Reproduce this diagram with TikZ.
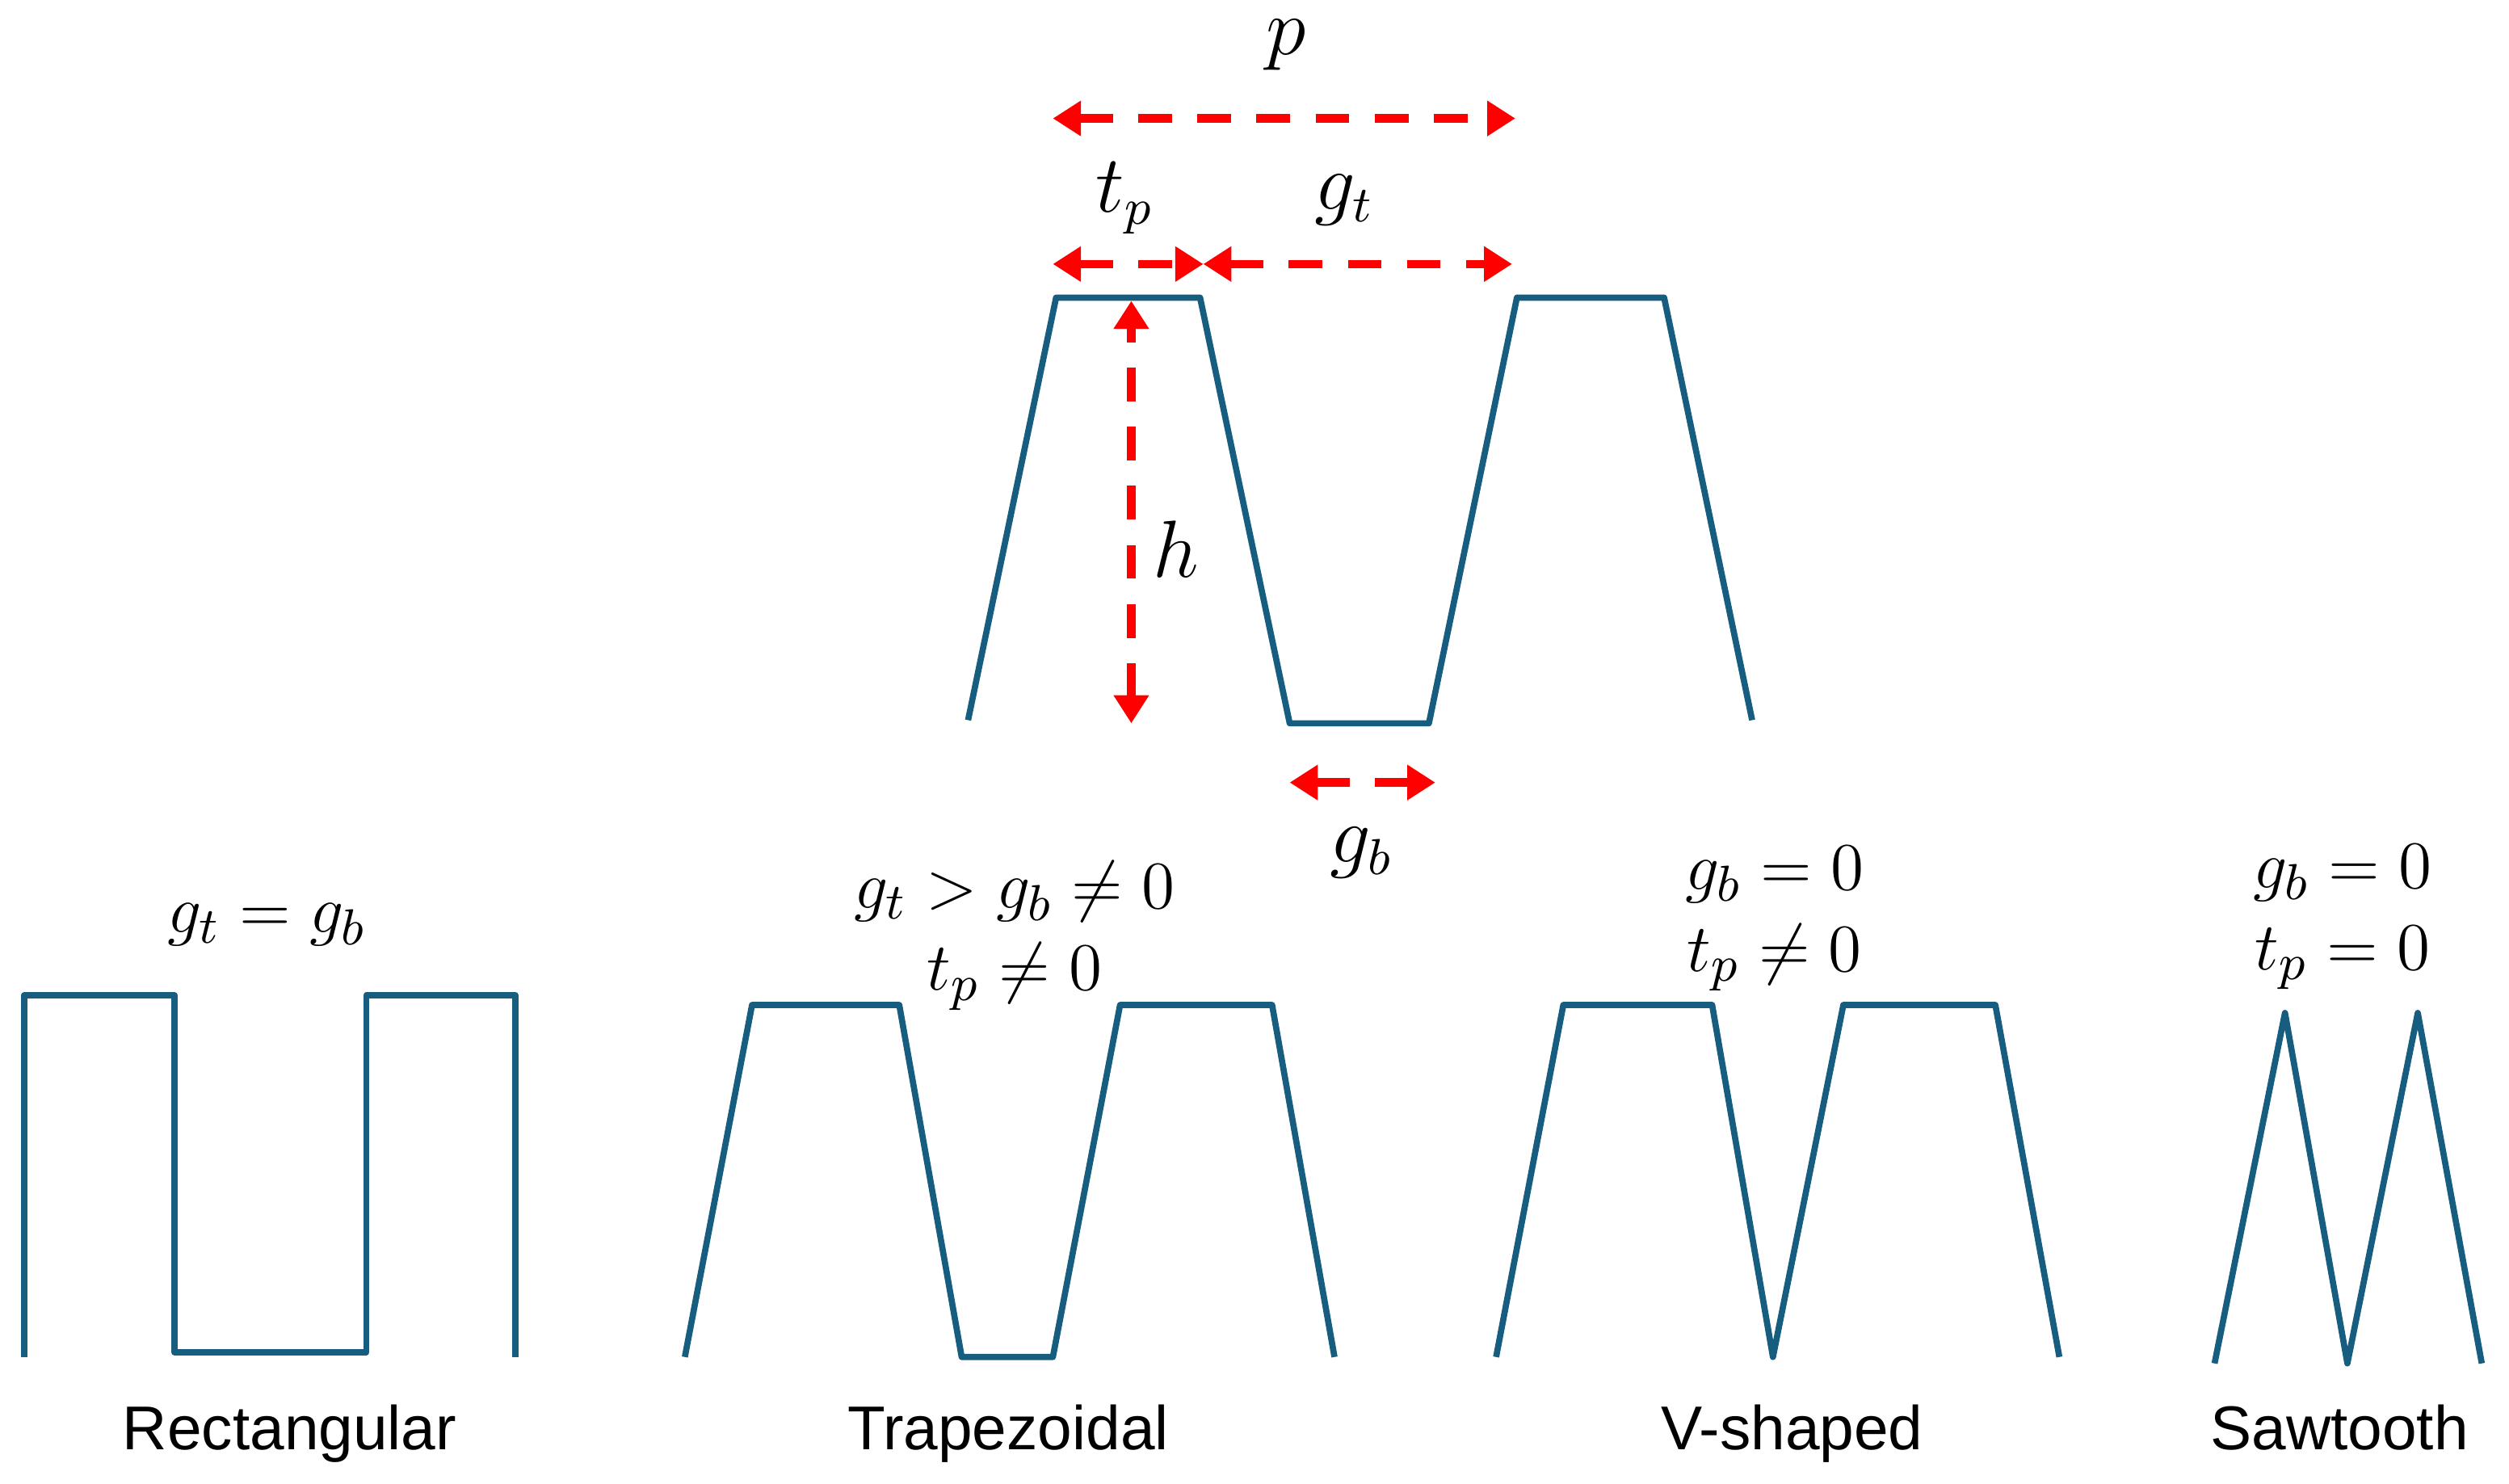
\documentclass[tikz,border=0pt]{standalone}
\usepackage{fontspec}
\newfontfamily\labelfont{Liberation Sans}
\usetikzlibrary{arrows.meta, positioning}
\definecolor{profileblue}{RGB}{22,93,128}
\definecolor{dimred}{RGB}{255,0,0}

\begin{document}
\begin{tikzpicture}[
        x=0.01cm, y=-0.01cm,
        profile/.style={draw=profileblue, line width=1.1pt, line join=round},
        dim/.style={{Triangle[length=5pt, width=6pt]}-{Triangle[length=5pt, width=6pt]}, draw=dimred, line width=1.5pt, dash pattern=on 6pt off 4.5pt},
        sym/.style={inner sep=0pt, font=\fontsize{13.5}{15}\selectfont},
        cond/.style={inner sep=0pt, align=center, font=\fontsize{13}{14.5}\selectfont},
        typelabel/.style={inner sep=0pt, anchor=base, font=\labelfont\fontsize{11}{13}\selectfont}
    ]
        \useasboundingbox (0,0) rectangle (1568,927);

        % main trapezoidal profile
        \coordinate (a1) at (605,450);
        \coordinate (a2) at (660,186);
        \coordinate (a3) at (750,186);
        \coordinate (a4) at (806,452);
        \coordinate (a5) at (893,452);
        \coordinate (a6) at (948,186);
        \coordinate (a7) at (1040,186);
        \coordinate (a8) at (1095,450);
        \draw[profile] (a1) -- (a2) -- (a3) -- (a4) -- (a5) -- (a6) -- (a7) -- (a8);

        % dimensions
        \coordinate (pL) at (658,74);
        \coordinate (pR) at (947,74);
        \coordinate (tL) at (658,165);
        \coordinate (tM) at (752,165);
        \coordinate (tR) at (945,165);
        \coordinate (hT) at (707,188);
        \coordinate (hB) at (707,452);
        \coordinate (bL) at (806,489);
        \coordinate (bR) at (897,489);
        \draw[dim] (pL) -- (pR);
        \draw[dim] (tL) -- (tM);
        \draw[dim] (tM) -- (tR);
        \draw[dim] (hB) -- (hT);
        \draw[dim] (bL) -- (bR);

        \node[sym] (plbl) at (804,28) {$p$};
        \node[sym] (tplbl) at (703,124) {$t_p$};
        \node[sym] (gtlbl) at (840,125) {$g_t$};
        \node[sym] (hlbl) at (735,343) {$h$};
        \node[sym] (gblbl) at (851,533) {$g_b$};

        % rectangular
        \draw[profile] (15,848) -- (15,622) -- (109,622) -- (109,845) -- (229,845) -- (229,622) -- (322,622) -- (322,848);
        \node[cond] (rectcond) at (167,578) {$g_t = g_b$};
        \node[typelabel] (rectname) at (181,906) {Rectangular};

        % trapezoidal
        \draw[profile] (428,848) -- (470,628) -- (562,628) -- (601,848) -- (658,848) -- (700,628) -- (795,628) -- (834,848);
        \node[cond] (trapcond) at (634,585) {$g_t > g_b \neq 0$\\$t_p \neq 0$};
        \node[typelabel] (trapname) at (630,906) {Trapezoidal};

        % v-shaped
        \draw[profile] (935,848) -- (977,628) -- (1070,628) -- (1108,848) -- (1152,628) -- (1247,628) -- (1287,848);
        \node[cond] (vcond) at (1109,574) {$g_b = 0$\\$t_p \neq 0$};
        \node[typelabel] (vname) at (1120,906) {V-shaped};

        % sawtooth
        \draw[profile] (1384,852) -- (1428,633) -- (1467,852) -- (1511,633) -- (1551,852);
        \node[cond] (sawcond) at (1464,573) {$g_b = 0$\\$t_p = 0$};
        \node[typelabel] (sawname) at (1462,906) {Sawtooth};
    \end{tikzpicture}
\end{document}
